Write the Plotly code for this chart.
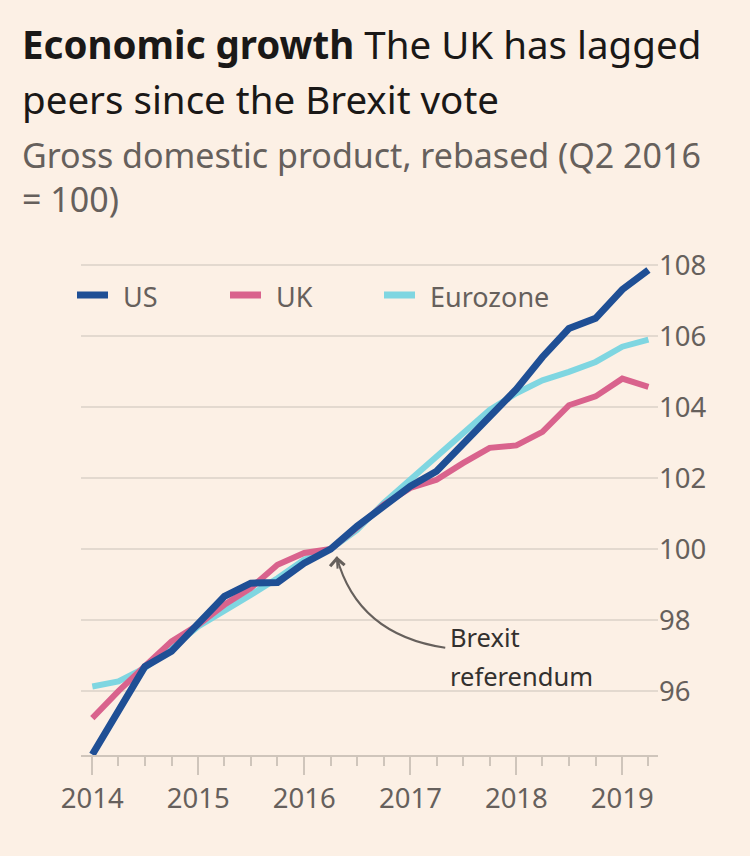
import plotly.graph_objects as go

# ---- data (quarterly, GDP rebased Q2 2016 = 100) ----
quarters = [
    "2014-01-01", "2014-04-01", "2014-07-01", "2014-10-01",
    "2015-01-01", "2015-04-01", "2015-07-01", "2015-10-01",
    "2016-01-01", "2016-04-01", "2016-07-01", "2016-10-01",
    "2017-01-01", "2017-04-01", "2017-07-01", "2017-10-01",
    "2018-01-01", "2018-04-01", "2018-07-01", "2018-10-01",
    "2019-01-01", "2019-04-01",
]
us = [94.21, 95.40, 96.69, 97.12, 97.87, 98.67, 99.04, 99.06, 99.60, 100.0,
      100.64, 101.20, 101.77, 102.19, 102.94, 103.74, 104.50, 105.41, 106.21, 106.50,
      107.31, 107.86]
uk = [95.24, 96.00, 96.70, 97.40, 97.87, 98.43, 98.90, 99.56, 99.89, 100.0,
      100.60, 101.25, 101.72, 101.95, 102.42, 102.85, 102.92, 103.30, 104.05, 104.30,
      104.80, 104.57]
eurozone = [96.13, 96.27, 96.65, 97.20, 97.82, 98.24, 98.71, 99.18, 99.70, 100.0,
            100.54, 101.30, 101.95, 102.60, 103.27, 103.92, 104.39, 104.75, 104.99, 105.27,
            105.70, 105.90]
series_names = ["US", "UK", "Eurozone"]
series_colors = ["#1f4f95", "#d9638d", "#7fd6e1"]
year_ticks = ["2014-01-01", "2015-01-01", "2016-01-01", "2017-01-01", "2018-01-01", "2019-01-01"]
year_labels = ["2014", "2015", "2016", "2017", "2018", "2019"]
y_ticks = [96, 98, 100, 102, 104, 106, 108]

BG = "#fcf0e5"
GRID = "#e3d9cf"
AXIS = "#cfc5bb"
GREY = "#66605c"
FONT = "Noto Sans"

values = {"US": us, "UK": uk, "Eurozone": eurozone}
colors = dict(zip(series_names, series_colors))
widths = {"US": 7, "UK": 6, "Eurozone": 6}

fig = go.Figure()
# draw order: Eurozone underneath, US on top
for name in ["Eurozone", "UK", "US"]:
    fig.add_trace(go.Scatter(x=quarters, y=values[name], name=name, mode="lines",
                             line=dict(color=colors[name], width=widths[name]),
                             showlegend=False))

# geometry helpers (pixels -> paper)
L, R, T, B = 81, 92, 262, 101
W, H = 750, 856
PW, PH = W - L - R, H - T - B


def px(x):
    return (x - L) / PW


def py(y):
    return (H - B - y) / PH


fig.update_layout(
    width=W, height=H,
    margin=dict(l=L, r=R, t=T, b=B),
    paper_bgcolor=BG, plot_bgcolor=BG,
    font=dict(family=FONT, color=GREY, size=27),
    showlegend=False,
    xaxis=dict(
        type="date",
        range=["2013-11-23", "2019-05-04"],
        tickvals=year_ticks, ticktext=year_labels,
        ticks="outside", ticklen=18, tickwidth=2, tickcolor=AXIS,
        minor=dict(dtick="M3", tick0="2014-01-01", ticks="outside", ticklen=9,
                   tickwidth=2, tickcolor=AXIS, showgrid=False),
        showline=True, linecolor=AXIS, linewidth=2,
        showgrid=False, zeroline=False,
        tickfont=dict(size=27.5, color=GREY, family=FONT),
    ),
    yaxis=dict(
        side="right",
        range=[94.2, 108.085],
        tickvals=y_ticks,
        showgrid=True, gridcolor=GRID, gridwidth=2,
        zeroline=False, showline=False, ticks="",
        ticklabelstandoff=0,
        tickfont=dict(size=27.5, color=GREY, family=FONT),
    ),
)

# legend (drawn manually to match spacing)
legend_swatch_x = [77, 230, 384]
for name, sx in zip(series_names, legend_swatch_x):
    fig.add_shape(type="line", xref="paper", yref="paper",
                  x0=px(sx), x1=px(sx + 31), y0=py(295), y1=py(295),
                  line=dict(color=colors[name], width=7))
    fig.add_annotation(xref="paper", yref="paper", x=px(sx + 44), y=py(296),
                       xanchor="left", yanchor="middle", text=name, showarrow=False,
                       font=dict(size=27, color=GREY, family=FONT))

# titles
fig.add_annotation(xref="paper", yref="paper", x=px(20), y=py(44), xanchor="left", yanchor="middle",
                   text="<b>Economic growth</b> The UK has lagged", showarrow=False,
                   font=dict(size=38.5, color="#1a1817", family=FONT))
fig.add_annotation(xref="paper", yref="paper", x=px(20), y=py(99), xanchor="left", yanchor="middle",
                   text="peers since the Brexit vote", showarrow=False,
                   font=dict(size=38.5, color="#1a1817", family=FONT))
fig.add_annotation(xref="paper", yref="paper", x=px(20), y=py(177), xanchor="left", yanchor="middle",
                   text="Gross domestic product, rebased (Q2 2016<br>= 100)", showarrow=False,
                   align="left", font=dict(size=34, color=GREY, family=FONT))

# Brexit referendum annotation
fig.add_annotation(xref="paper", yref="paper", x=px(448), y=py(637), xanchor="left", yanchor="middle",
                   text="Brexit", showarrow=False, font=dict(size=25.5, color="#33302e", family=FONT))
fig.add_annotation(xref="paper", yref="paper", x=px(448), y=py(676), xanchor="left", yanchor="middle",
                   text="referendum", showarrow=False, font=dict(size=25.5, color="#33302e", family=FONT))
fig.add_shape(type="path", xref="x", yref="y",
              path="M 2017-05-01,97.22 Q 2016-07-03,97.59 2016-04-22,99.78",
              line=dict(color=GREY, width=2))
fig.add_annotation(xref="x", yref="y", x="2016-04-22", y=99.8, ax=1, ay=14, text="",
                   showarrow=True, arrowhead=4, arrowsize=1.4, arrowwidth=2, arrowcolor=GREY)

fig.write_html("out.html")
